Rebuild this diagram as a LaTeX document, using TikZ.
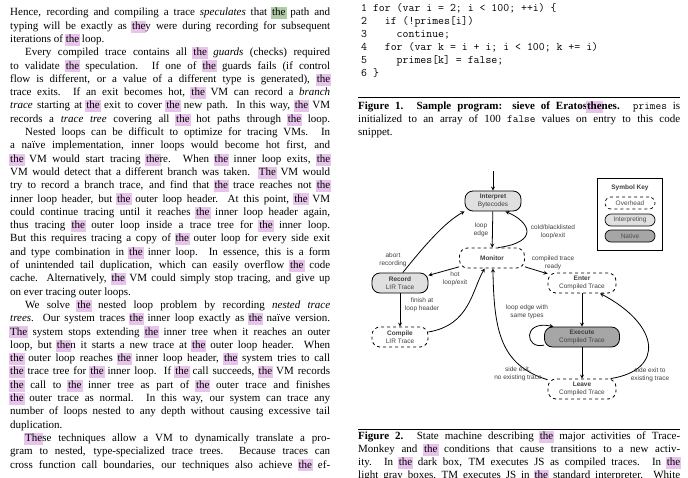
\documentclass[tikz,border=0pt]{standalone}
\usepackage{fontspec}
\setmainfont{Liberation Serif}
\setsansfont{Liberation Sans}
\usetikzlibrary{positioning,arrows,arrows.meta}
\definecolor{hlpink}{RGB}{232,196,236}
\definecolor{hlgreen}{RGB}{176,204,166}
\newlength{\colw}
\setlength{\colw}{320pt}
\newcommand{\hl}[1]{\kern-1pt\relax{\setlength{\fboxsep}{1pt}\colorbox{hlpink}{\vphantom{Tg}#1}}\kern-1pt\relax}
\newcommand{\hlg}[1]{\kern-1pt\relax{\setlength{\fboxsep}{1pt}\colorbox{hlgreen}{\vphantom{Tg}#1}}\kern-1pt\relax}
\newcommand{\jline}[1]{\hbox to \colw{#1}}
\newcommand{\lastline}[1]{\hbox to \colw{#1\hfil}}
\newcommand{\pind}{\hspace*{15pt}}
\tikzset{font=\fontsize{6.5}{7.4}\selectfont\sffamily}

\begin{document}
\begin{tikzpicture}[x=1pt,y=1pt]
	\useasboundingbox (0,0) rectangle (688,-477);
	\tikzstyle{every node}=[align=center, inner sep=1pt]
	% left column
	\node[anchor=north west, inner sep=0pt, font=\fontsize{11}{13.3}\selectfont\rmfamily, align=left] (body) at (10,-7) {\vbox{\baselineskip=13.3pt
		\jline{Hence, recording and compiling a trace \emph{speculates} that \hlg{the} path and}
		\jline{typing will be exactly as \hl{the}y were during recording for subsequent}
		\lastline{iterations of \hl{the} loop.}
		\jline{\pind Every compiled trace contains all \hl{the} \emph{guards} (checks) required}
		\jline{to validate \hl{the} speculation. If one of \hl{the} guards fails (if control}
		\jline{flow is different, or a value of a different type is generated), \hl{the}}
		\jline{trace exits. If an exit becomes hot, \hl{the} VM can record a \emph{branch}}
		\jline{\emph{trace} starting at \hl{the} exit to cover \hl{the} new path. In this way, \hl{the} VM}
		\jline{records a \emph{trace tree} covering all \hl{the} hot paths through \hl{the} loop.}
		\jline{\pind Nested loops can be difficult to optimize for tracing VMs. In}
		\jline{a naïve implementation, inner loops would become hot first, and}
		\jline{\hl{the} VM would start tracing \hl{the}re. When \hl{the} inner loop exits, \hl{the}}
		\jline{VM would detect that a different branch was taken. \hl{The} VM would}
		\jline{try to record a branch trace, and find that \hl{the} trace reaches not \hl{the}}
		\jline{inner loop header, but \hl{the} outer loop header. At this point, \hl{the} VM}
		\jline{could continue tracing until it reaches \hl{the} inner loop header again,}
		\jline{thus tracing \hl{the} outer loop inside a trace tree for \hl{the} inner loop.}
		\jline{But this requires tracing a copy of \hl{the} outer loop for every side exit}
		\jline{and type combination in \hl{the} inner loop. In essence, this is a form}
		\jline{of unintended tail duplication, which can easily overflow \hl{the} code}
		\jline{cache. Alternatively, \hl{the} VM could simply stop tracing, and give up}
		\lastline{on ever tracing outer loops.}
		\jline{\pind We solve \hl{the} nested loop problem by recording \emph{nested trace}}
		\jline{\emph{trees}. Our system traces \hl{the} inner loop exactly as \hl{the} naïve version.}
		\jline{\hl{The} system stops extending \hl{the} inner tree when it reaches an outer}
		\jline{loop, but \hl{the}n it starts a new trace at \hl{the} outer loop header. When}
		\jline{\hl{the} outer loop reaches \hl{the} inner loop header, \hl{the} system tries to call}
		\jline{\hl{the} trace tree for \hl{the} inner loop. If \hl{the} call succeeds, \hl{the} VM records}
		\jline{\hl{the} call to \hl{the} inner tree as part of \hl{the} outer trace and finishes}
		\jline{\hl{the} outer trace as normal. In this way, our system can trace any}
		\jline{number of loops nested to any depth without causing excessive tail}
		\lastline{duplication.}
		\jline{\pind \hl{The}se techniques allow a VM to dynamically translate a pro-}
		\jline{gram to nested, type-specialized trace trees. Because traces can}
		\jline{cross function call boundaries, our techniques also achieve \hl{the} ef-}
	}};
	% right column: code
	\node[anchor=north west, inner sep=0pt, align=left, font=\fontsize{11.5}{13}\selectfont\ttfamily] (code) at (361,-3) {%
		1 for (var i = 2; i < 100; ++i) \{\\
		2 \ \ if (!primes[i])\\
		3 \ \ \ \ continue;\\
		4 \ \ for (var k = i + i; i < 100; k += i)\\
		5 \ \ \ \ primes[k] = false;\\
		6 \}};
	\draw[line width=0.8pt] (358,-97) coordinate (r1a) -- (680,-97) coordinate (r1b);
	\node[anchor=north west, inner sep=0pt, align=left, font=\fontsize{11}{13}\selectfont\rmfamily] (cap1) at (358,-101) {\vbox{\baselineskip=13pt \setlength{\colw}{322pt}
		\jline{\textbf{Figure 1. Sample program: sieve of Eratos\hl{the}nes.} \texttt{primes} is}
		\jline{initialized to an array of 100 \texttt{false} values on entry to this code}
		\lastline{snippet.}}};
	\draw[line width=0.8pt] (358,-429) coordinate (r2a) -- (680,-429) coordinate (r2b);
	\node[anchor=north west, inner sep=0pt, align=left, font=\fontsize{11}{13}\selectfont\rmfamily] (cap2) at (358,-431) {\vbox{\baselineskip=13pt \setlength{\colw}{322pt}
		\jline{\textbf{Figure 2.} State machine describing \hl{the} major activities of Trace-}
		\jline{Monkey and \hl{the} conditions that cause transitions to a new activ-}
		\jline{ity. In \hl{the} dark box, TM executes JS as compiled traces. In \hl{the}}
		\jline{light gray boxes, TM executes JS in \hl{the} standard interpreter. White}}};
	% state machine
	\tikzset{
		pill/.style={draw, line width=0.8pt, rounded corners=8pt, minimum width=56, minimum height=20, text=black!75},
		overhead/.style={pill, dashed, fill=white},
		interp/.style={pill, fill=black!12},
		native/.style={pill, fill=black!35},
		keypill/.style={draw, line width=0.7pt, rounded corners=6pt, minimum width=50, minimum height=12, text=black!70},
		edge/.style={->, >=stealth, line width=0.8pt},
		lbl/.style={text=black!75}
	}
	\node[interp] (interp) at (493,-201) {\textbf{Interpret}\\Bytecodes};
	\node[overhead, minimum width=65] (monitor) at (492,-258) {\textbf{Monitor}};
	\node[interp] (rec) at (400,-283) {\textbf{Record}\\LIR Trace};
	\node[overhead] (comp) at (400,-337) {\textbf{Compile}\\LIR Trace};
	\node[overhead, minimum width=68] (enter) at (582,-283) {\textbf{Enter}\\Compiled Trace};
	\node[native, minimum width=75] (exec) at (582,-337) {\textbf{Execute}\\Compiled Trace};
	\node[overhead, minimum width=68] (leave) at (582,-389) {\textbf{Leave}\\Compiled Trace};
	\coordinate (start) at (493,-171);

	\draw[edge] (start) -- (interp);
	\draw[edge] (interp) -- (monitor);
	\draw[edge] (monitor.60) .. controls (540,-242) and (530,-222) .. (interp.-40);
	\draw[edge] (rec.75) .. controls (425,-245) and (445,-222) .. (interp.200);
	\draw[edge] (monitor.195) -- (rec.15);
	\draw[edge] (monitor.-15) -- (enter.165);
	\draw[edge] (rec) -- (comp);
	\draw[edge] (comp.10) .. controls (470,-325) and (472,-290) .. (monitor.-125);
	\draw[edge] (enter) -- (exec);
	\draw[edge] (exec.192) .. controls (525,-350) and (522,-320) .. (exec.160);
	\draw[edge] (exec) -- (leave);
	\draw[edge] (leave.165) .. controls (500,-365) and (494,-330) .. (monitor.-85);
	\draw[edge] (leave.20) .. controls (665,-370) and (660,-325) .. (enter.-30);

	\node[lbl] (l-loop) at (481,-230) {loop\\edge};
	\node[lbl] (l-cold) at (553,-232) {cold/blacklisted\\loop/exit};
	\node[lbl] (l-abort) at (393,-260) {abort\\recording};
	\node[lbl] (l-hot) at (455,-279) {hot\\loop/exit};
	\node[lbl] (l-ready) at (553,-263) {compiled trace\\ready};
	\node[lbl] (l-finish) at (422,-305) {finish at\\loop header};
	\node[lbl] (l-same) at (527,-312) {loop edge with\\same types};
	\node[lbl] (l-noex) at (518,-374) {side exit,\\no existing trace};
	\node[lbl] (l-ex) at (650,-375) {side exit to\\existing trace};

	% symbol key
	\node[draw, line width=0.8pt, minimum width=65, minimum height=72] (key) at (630,-214) {};
	\node[font=\fontsize{6.5}{7.4}\selectfont\sffamily\bfseries, text=black!75] (keyt) at (630,-188) {Symbol Key};
	\node[keypill, dashed, fill=white] (k-over) at (630,-203) {Overhead};
	\node[keypill, fill=black!12] (k-int) at (630,-220) {Interpreting};
	\node[keypill, fill=black!35] (k-nat) at (630,-236) {Native};
\end{tikzpicture}
\end{document}
